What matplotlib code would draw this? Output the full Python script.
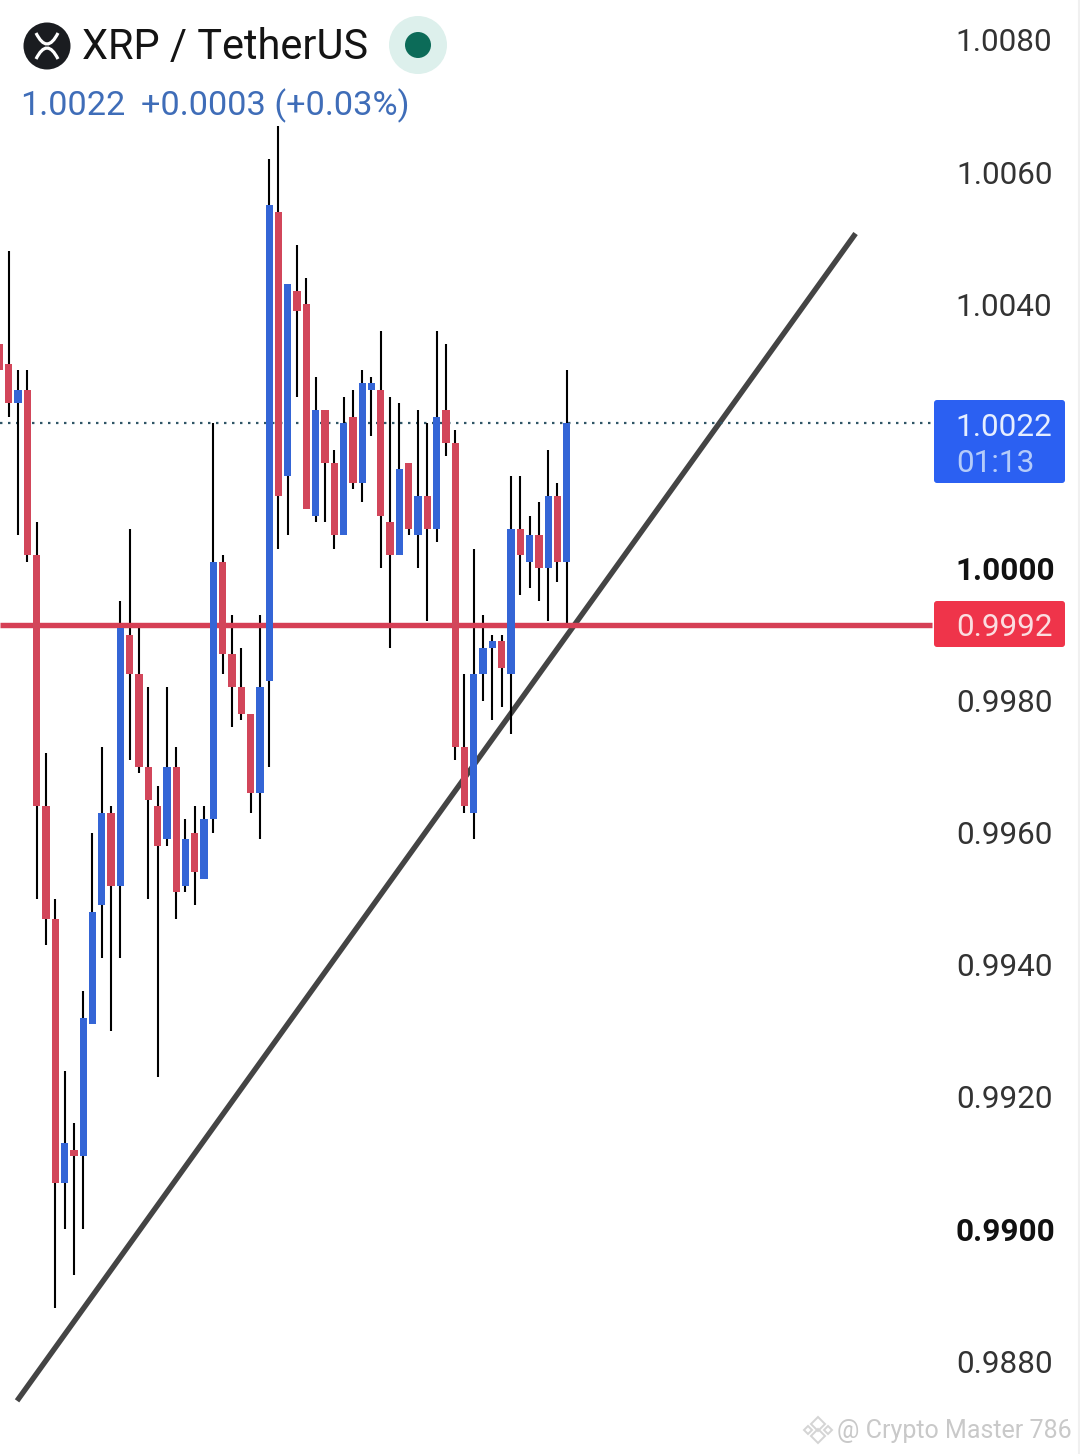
"""XRP / TetherUS candles with a support trend line and price labels."""

import matplotlib

matplotlib.use("Agg")
import matplotlib.pyplot as plt
from matplotlib.patches import Circle, FancyBboxPatch, PathPatch, Polygon
from matplotlib.path import Path

plt.rcParams["font.family"] = ["Roboto", "DejaVu Sans"]

# one entry per candle, prices in units of 0.0001
highs = [10034, 10048, 10030, 10030, 10007, 9972, 9950, 9924, 9916, 9936, 9960, 9973, 9964, 9995, 10006, 9991,
         9982, 9967, 9982, 9973, 9962, 9964, 9964, 10022, 10002, 9993, 9988, 9978, 9993, 10062, 10067, 10043,
         10049, 10044, 10029, 10024, 10018, 10026, 10027, 10030, 10029, 10036, 10026, 10025, 10016, 10024,
         10022, 10036, 10034, 10021, 9984, 10003, 9993, 9990, 9990, 10014, 10014, 10008, 10010, 10018, 10013,
         10030]
body_tops = [10034, 10031, 10027, 10027, 10002, 9964, 9947, 9913, 9912, 9932, 9948, 9963, 9963, 9991, 9990, 9984,
             9970, 9964, 9970, 9970, 9959, 9960, 9962, 10001, 10001, 9987, 9982, 9978, 9982, 10055, 10054, 10043,
             10042, 10040, 10024, 10024, 10016, 10022, 10023, 10028, 10028, 10027, 10007, 10015, 10016, 10011,
             10011, 10023, 10024, 10019, 9973, 9984, 9988, 9989, 9989, 10006, 10006, 10005, 10005, 10011, 10011,
             10022]
body_bottoms = [10030, 10025, 10025, 10002, 9964, 9947, 9907, 9907, 9911, 9911, 9931, 9949, 9952, 9952, 9984, 9970,
                9965, 9958, 9959, 9951, 9952, 9954, 9953, 9962, 9987, 9982, 9978, 9966, 9966, 9983, 10011, 10014,
                10039, 10009, 10008, 10016, 10005, 10005, 10013, 10013, 10027, 10008, 10002, 10002, 10006, 10005,
                10006, 10006, 10019, 9973, 9964, 9963, 9984, 9988, 9985, 9984, 10002, 10001, 10000, 10000, 10001,
                10001]
lows = [10030, 10023, 10005, 10001, 9950, 9943, 9888, 9900, 9893, 9900, 9931, 9941, 9930, 9941, 9971, 9969,
        9950, 9923, 9958, 9947, 9951, 9949, 9953, 9960, 9984, 9976, 9977, 9963, 9959, 9970, 10003, 10005,
        10026, 10009, 10007, 10007, 10003, 10005, 10012, 10010, 10020, 10000, 9988, 10002, 10005, 10000,
        9992, 10004, 10017, 9971, 9963, 9959, 9980, 9977, 9979, 9975, 9996, 9997, 9995, 9992, 9998,
        9991]
rising = [0, 0, 1, 0, 0, 0, 0, 1, 0, 1, 1, 1, 0, 1, 0, 0,
          0, 0, 1, 0, 1, 0, 1, 1, 0, 0, 0, 0, 1, 1, 0, 1,
          0, 0, 1, 0, 0, 1, 0, 1, 1, 0, 0, 1, 0, 1,
          0, 1, 0, 0, 0, 1, 1, 1, 0, 1, 0, 1, 0, 1, 0,
          1]

tick_prices = [1.0080, 1.0060, 1.0040, 1.0000, 0.9980, 0.9960, 0.9940, 0.9920, 0.9900, 0.9880]
tick_labels = ["1.0080", "1.0060", "1.0040", "1.0000", "0.9980", "0.9960", "0.9940", "0.9920", "0.9900", "0.9880"]
bold_labels = ["1.0000", "0.9900"]

last_price = 1.0022
level_price = 0.99915
trend_x = [1.89, 92.05]
trend_y = [0.98740, 1.00507]

RED = "#D2465A"
BLUE = "#3465D6"

fig = plt.figure(figsize=(10.8, 14.54), dpi=100, facecolor="white")
ax = fig.add_axes([0, 0, 1, 1])
ax.set_xlim(0.057, 116.18)
ax.set_ylim(0.986595, 1.008605)
ax.axis("off")

candles = range(len(highs))
colors = [BLUE if r else RED for r in rising]
ax.plot(trend_x, trend_y, color="#444444", lw=3.9, zorder=1, solid_capstyle="butt")
ax.vlines(candles, [v / 10000 for v in lows], [v / 10000 for v in highs], color="black", lw=1.5, zorder=2)
ax.bar(candles, [(t - b) / 10000 for t, b in zip(body_tops, body_bottoms)],
       bottom=[b / 10000 for b in body_bottoms], width=0.78, color=colors, zorder=3)

ax.plot([0.057, 100.25], [last_price, last_price], color="#2F5566", lw=1.6,
        linestyle=(0, (1.1, 2.5)), zorder=1)
ax.plot([0.057, 100.25], [level_price, level_price], color="#D63F55", lw=3.9, zorder=2.5,
        solid_capstyle="butt")

# price scale, x in axes fraction so the labels stay in the right hand gutter
trans = ax.get_yaxis_transform()
for price, label in zip(tick_prices, tick_labels):
    bold = label in bold_labels
    ax.text(1055.5 / 1080 if bold else 1052.5 / 1080, price, label, transform=trans, ha="right",
            va="center_baseline", fontsize=22.7, color="#111111" if bold else "#333333",
            weight="bold" if bold else "normal", zorder=6)

# everything below is placed in pixels of the screenshot
ov = fig.add_axes([0, 0, 1, 1], facecolor="none")
ov.set_xlim(0, 1080)
ov.set_ylim(1454, 0)
ov.axis("off")

ov.add_patch(FancyBboxPatch((937, 403), 125, 77, boxstyle="round,pad=3", fc="#2B60F2", ec="none"))
ov.add_patch(FancyBboxPatch((937, 604), 125, 40, boxstyle="round,pad=3", fc="#EF344A", ec="none"))
ov.text(1052.5, 427, "1.0022", ha="right", va="center", fontsize=22.7, color="#E6EEFF")
ov.text(956.5, 463, "01:13", ha="left", va="center", fontsize=22.7, color="#B4CBFA")
ov.text(1052.5, 627, "0.9992", ha="right", va="center", fontsize=22.7, color="#FBDDE0")

ov.add_patch(Circle((47, 46), 23.5, fc="#1A1C20", ec="none"))
x_mark = Path([(36, 33), (47, 55), (58, 33), (36, 59), (47, 37), (58, 59)],
              [Path.MOVETO, Path.CURVE3, Path.CURVE3, Path.MOVETO, Path.CURVE3, Path.CURVE3])
ov.add_patch(PathPatch(x_mark, fc="none", ec="white", lw=2.3))
ov.text(82, 47, "XRP / TetherUS", ha="left", va="center", fontsize=29.9, color="#141414")
ov.add_patch(Circle((418, 45), 29, fc="#DDF0EC", ec="none"))
ov.add_patch(Circle((418, 45), 13, fc="#0C6B58", ec="none"))
ov.text(20.5, 106, "1.0022", ha="left", va="center", fontsize=24.7, color="#3F6DB8")
ov.text(141, 106, "+0.0003 (+0.03%)", ha="left", va="center", fontsize=24.7, color="#3F6DB8")

# watermark
for cx, cy, r in [(818, 1424, 7), (808, 1430, 4), (828, 1430, 4), (818, 1436, 7)]:
    ov.add_patch(Polygon([(cx - r, cy), (cx, cy - r), (cx + r, cy), (cx, cy + r)], fc="none", ec="#D4D4D4", lw=1.4))
ov.text(1072, 1431, "@ Crypto Master 786", ha="right", va="center", fontsize=18, color="#C9C9C9")
ov.plot([1079, 1079], [0, 1454], color="#F0F0F0", lw=1.5)

fig.savefig("out.png", dpi=100)
